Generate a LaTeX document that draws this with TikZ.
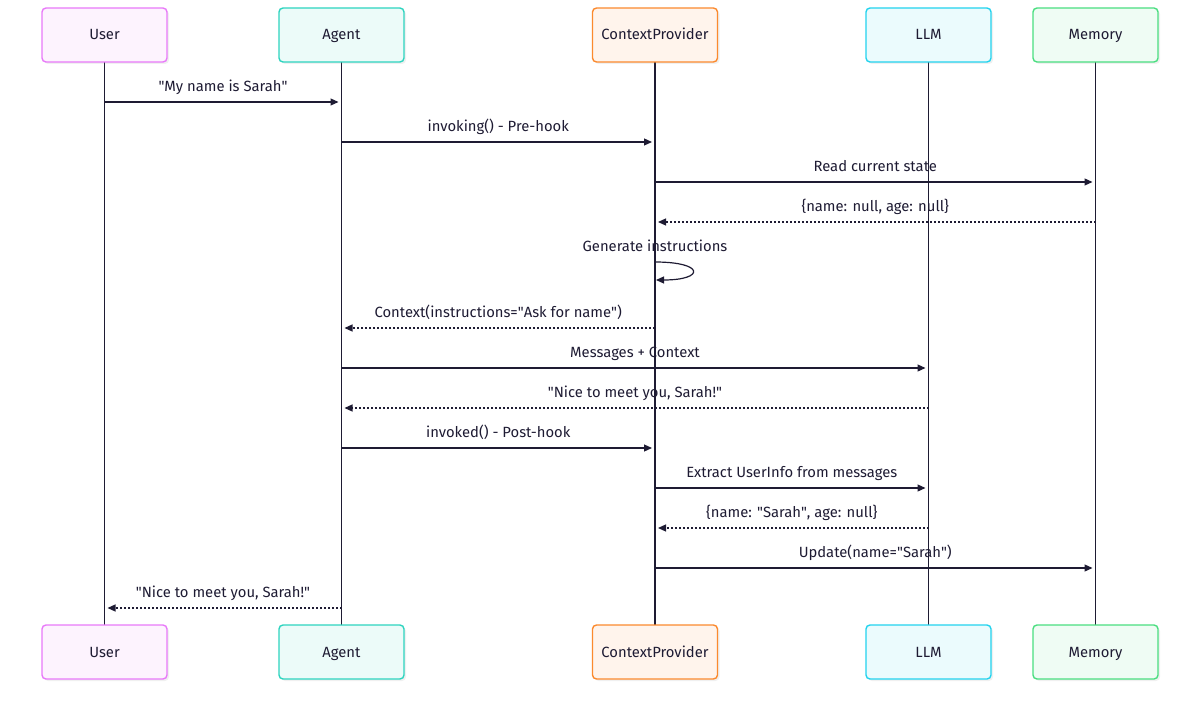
\documentclass[tikz,border=0pt]{standalone}
\usepackage{fontspec}
\setmainfont{Fira Sans}
\usepackage{xcolor}
\definecolor{myink}{HTML}{1E1B33}
\definecolor{myuser}{HTML}{E879F9}
\definecolor{myagent}{HTML}{2DD4BF}
\definecolor{mycontext}{HTML}{FB8A2E}
\definecolor{myllm}{HTML}{22D3EE}
\definecolor{mymemory}{HTML}{4ADE80}
\usepackage{tikz}
\usetikzlibrary{arrows.meta}
\usetikzlibrary{shadows}
\newcommand{\dq}{\textquotedbl}

\begin{document}
\begin{tikzpicture}[x=1pt,y=-1pt,
    font=\fontsize{14.8}{17}\selectfont,
    actor/.style={draw=#1,fill=#1!9,line width=1.4pt,rounded corners=4pt,
      minimum width=125pt,minimum height=54pt,text=myink,
      text height=12pt,text depth=2pt,
      drop shadow={opacity=0.12,shadow xshift=2pt,shadow yshift=-2pt}},
    life/.style={myink,line width=1.5pt},
    msg/.style={myink,line width=1.2pt,-{Triangle[length=8pt,width=7pt]},shorten >=3pt},
    reply/.style={msg,dash pattern=on 2pt off 2pt},
    lbl/.style={above=6.5pt,inner sep=0pt,text height=11pt,text depth=3pt,text=myink}]
        \useasboundingbox (0,0) rectangle (1200,714);
        \foreach \x in {104.5,341.5,655,928.5,1095.5}{
          \draw[life] (\x,62) -- (\x,625);
        }
        \node[actor=myuser] (usertop) at (104.5,35) {User};
        \node[actor=myagent] (agenttop) at (341.5,35) {Agent};
        \node[actor=mycontext] (ctxtop) at (655,35) {ContextProvider};
        \node[actor=myllm] (llmtop) at (928.5,35) {LLM};
        \node[actor=mymemory] (memtop) at (1095.5,35) {Memory};
        \node[actor=myuser] (userbot) at (104.5,652) {User};
        \node[actor=myagent] (agentbot) at (341.5,652) {Agent};
        \node[actor=mycontext] (ctxbot) at (655,652) {ContextProvider};
        \node[actor=myllm] (llmbot) at (928.5,652) {LLM};
        \node[actor=mymemory] (membot) at (1095.5,652) {Memory};
        % messages
        \draw[msg] (usertop |- 0,102) -- node[lbl] {\dq My name is Sarah\dq} (agenttop |- 0,102);
        \draw[msg] (agenttop |- 0,142) -- node[lbl] {invoking() - Pre-hook} (ctxtop |- 0,142);
        \draw[msg] (ctxtop |- 0,182) -- node[lbl] {Read current state} (memtop |- 0,182);
        \draw[reply] (memtop |- 0,222) -- node[lbl] {\{name: null, age: null\}} (ctxtop |- 0,222);
        \node[text=myink,text height=11pt,text depth=3pt] (gen) at (655,248) {Generate instructions};
        \draw[msg,shorten >=1pt] (ctxtop |- 0,262) .. controls +(50,0) and +(50,0) .. (ctxtop |- 0,280);
        \draw[reply] (ctxtop |- 0,328) -- node[lbl] {Context(instructions=\dq Ask for name\dq)} (agenttop |- 0,328);
        \draw[msg] (agenttop |- 0,368) -- node[lbl] {Messages + Context} (llmtop |- 0,368);
        \draw[reply] (llmtop |- 0,408) -- node[lbl] {\dq Nice to meet you, Sarah!\dq} (agenttop |- 0,408);
        \draw[msg] (agenttop |- 0,448) -- node[lbl] {invoked() - Post-hook} (ctxtop |- 0,448);
        \draw[msg] (ctxtop |- 0,488) -- node[lbl] {Extract UserInfo from messages} (llmtop |- 0,488);
        \draw[reply] (llmtop |- 0,528) -- node[lbl] {\{name: \dq Sarah\dq, age: null\}} (ctxtop |- 0,528);
        \draw[msg] (ctxtop |- 0,568) -- node[lbl] {Update(name=\dq Sarah\dq)} (memtop |- 0,568);
        \draw[reply] (agenttop |- 0,608) -- node[lbl] {\dq Nice to meet you, Sarah!\dq} (usertop |- 0,608);
      \end{tikzpicture}
\end{document}
